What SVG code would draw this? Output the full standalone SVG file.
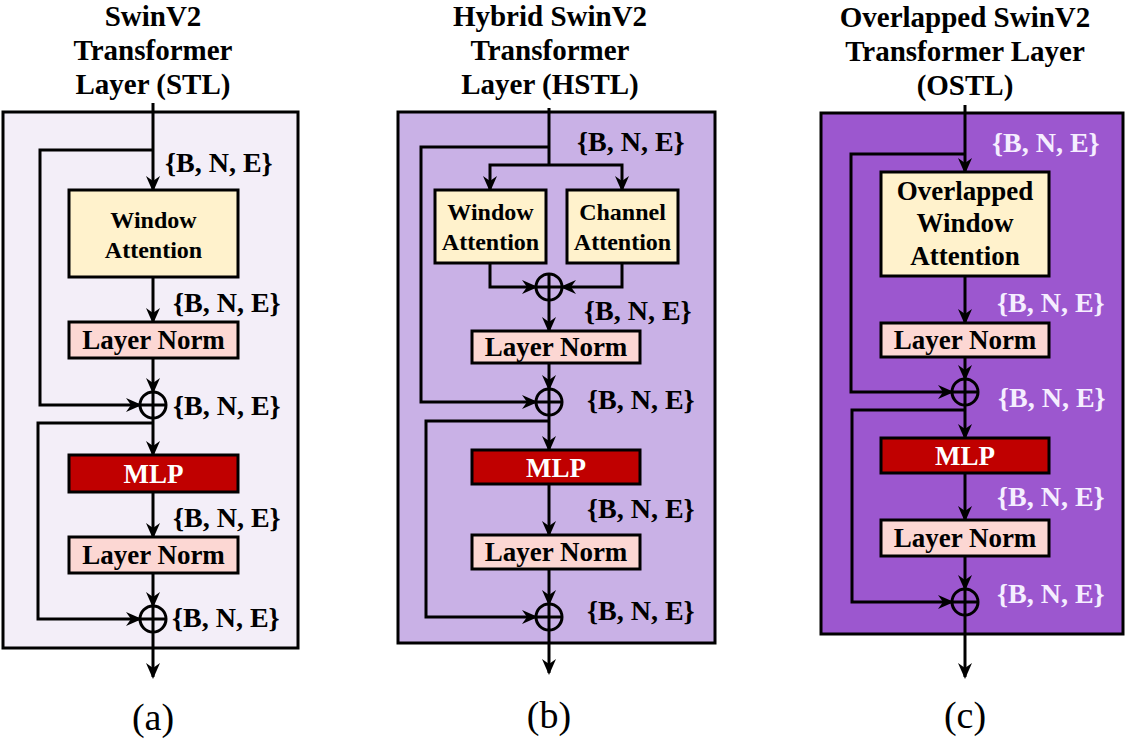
<svg xmlns="http://www.w3.org/2000/svg" width="1125" height="744" viewBox="0 0 1125 744" font-family="'Liberation Serif', 'Times New Roman', Times, serif">
<defs>
<marker id="ah" markerUnits="userSpaceOnUse" markerWidth="18" markerHeight="16" refX="14" refY="7" orient="auto">
<path d="M0,0 L16,7 L0,14 L5,7 z" fill="#000"/>
</marker>
<style>
.frame{stroke:#000;stroke-width:3}
.title{font-weight:bold;font-size:29px;text-anchor:middle;fill:#000}
.cap{font-size:38px;text-anchor:middle;fill:#000}
.lbl{font-weight:bold;font-size:28px;fill:#000}
.lblw{font-weight:bold;font-size:28px;fill:#f5eeff}
.bt{font-weight:bold;font-size:24px;text-anchor:middle;fill:#000}
.bln{font-weight:bold;font-size:27px;text-anchor:middle;fill:#000}
.bmlp{font-weight:bold;font-size:27px;text-anchor:middle;fill:#fff}
.att{fill:#fff2cc;stroke:#000;stroke-width:3}
.ln{fill:#fcd7d3;stroke:#000;stroke-width:3}
.mlp{fill:#c00000;stroke:#000;stroke-width:3}
.w{fill:none;stroke:#000;stroke-width:3}
.a{fill:none;stroke:#000;stroke-width:3;marker-end:url(#ah)}
.sum{fill:none;stroke:#000;stroke-width:3}
</style>
</defs>

<g id="panel-a">
<rect class="frame" x="3" y="112" width="295" height="536" fill="#f3eef8"/>
<text class="title" x="153" y="26">SwinV2</text>
<text class="title" x="153" y="60">Transformer</text>
<text class="title" x="153" y="94">Layer (STL)</text>
<text class="cap" x="153" y="730">(a)</text>
</g>
<g id="panel-b">
<rect class="frame" x="398" y="112" width="317" height="531" fill="#c9b1e6"/>
<text class="title" x="550" y="26">Hybrid SwinV2</text>
<text class="title" x="550" y="60">Transformer</text>
<text class="title" x="550" y="94">Layer (HSTL)</text>
<text class="cap" x="549" y="728">(b)</text>
</g>
<g id="panel-c">
<rect class="frame" x="821" y="113" width="302" height="521" fill="#9c57cf"/>
<text class="title" x="965" y="27">Overlapped SwinV2</text>
<text class="title" x="965" y="61">Transformer Layer</text>
<text class="title" x="965" y="95">(OSTL)</text>
<text class="cap" x="965" y="728">(c)</text>
</g>

<g id="connectors">
<path class="a" d="M153,103 V190"/>
<path class="a" d="M153,150 H40 V405 H140"/>
<path class="a" d="M153,277 V322"/>
<path class="a" d="M153,358 V392"/>
<path class="a" d="M153,418 V455"/>
<path class="a" d="M153,423 H38 V619 H140"/>
<path class="a" d="M153,492 V537"/>
<path class="a" d="M153,573 V606"/>
<path class="a" d="M153,632 V677"/>
<path class="w" d="M549,108 V165"/>
<path class="a" d="M549,147 H421 V402 H536"/>
<path class="a" d="M549,165 H490 V190"/>
<path class="a" d="M549,165 H622 V190"/>
<path class="a" d="M490,263 V287 H536"/>
<path class="a" d="M622,263 V287 H562"/>
<path class="a" d="M549,300 V331"/>
<path class="a" d="M549,363 V389"/>
<path class="a" d="M549,415 V450"/>
<path class="a" d="M549,421 H426 V617 H536"/>
<path class="a" d="M549,484 V535"/>
<path class="a" d="M549,569 V604"/>
<path class="a" d="M549,630 V673"/>
<path class="a" d="M965,105 V172"/>
<path class="a" d="M965,154 H851 V392 H952"/>
<path class="a" d="M965,276 V323"/>
<path class="a" d="M965,357 V379"/>
<path class="a" d="M965,405 V438"/>
<path class="a" d="M965,410 H852 V602 H952"/>
<path class="a" d="M965,473 V520"/>
<path class="a" d="M965,556 V589"/>
<path class="a" d="M965,615 V677"/>
</g>

<g id="a-window-attention">
<rect class="att" x="69" y="190" width="169" height="87"/>
<text class="bt" x="153.5" y="228">Window</text>
<text class="bt" x="153.5" y="258">Attention</text>
</g>
<g id="a-layernorm-1">
<rect class="ln" x="69" y="322" width="169" height="36"/>
<text class="bln" x="153.5" y="349">Layer Norm</text>
</g>
<g id="a-sum-1">
<circle class="sum" cx="153" cy="405" r="13"/>
<path class="sum" d="M140,405 H166 M153,392 V418"/>
</g>
<g id="a-mlp">
<rect class="mlp" x="69" y="455" width="169" height="37"/>
<text class="bmlp" x="153.5" y="483">MLP</text>
</g>
<g id="a-layernorm-2">
<rect class="ln" x="69" y="537" width="169" height="36"/>
<text class="bln" x="153.5" y="564">Layer Norm</text>
</g>
<g id="a-sum-2">
<circle class="sum" cx="153" cy="619" r="13"/>
<path class="sum" d="M140,619 H166 M153,606 V632"/>
</g>
<g id="a-labels">
<text class="lbl" x="165" y="172">{B, N, E}</text>
<text class="lbl" x="173" y="312">{B, N, E}</text>
<text class="lbl" x="173" y="415">{B, N, E}</text>
<text class="lbl" x="173" y="527">{B, N, E}</text>
<text class="lbl" x="172" y="627">{B, N, E}</text>
</g>

<g id="b-window-attention">
<rect class="att" x="435" y="190" width="111" height="73"/>
<text class="bt" x="490.5" y="220">Window</text>
<text class="bt" x="490.5" y="250">Attention</text>
</g>
<g id="b-channel-attention">
<rect class="att" x="567" y="190" width="111" height="73"/>
<text class="bt" x="622.5" y="220">Channel</text>
<text class="bt" x="622.5" y="250">Attention</text>
</g>
<g id="b-sum-0">
<circle class="sum" cx="549" cy="287" r="13"/>
<path class="sum" d="M536,287 H562 M549,274 V300"/>
</g>
<g id="b-layernorm-1">
<rect class="ln" x="472" y="331" width="168" height="32"/>
<text class="bln" x="556" y="356">Layer Norm</text>
</g>
<g id="b-sum-1">
<circle class="sum" cx="549" cy="402" r="13"/>
<path class="sum" d="M536,402 H562 M549,389 V415"/>
</g>
<g id="b-mlp">
<rect class="mlp" x="472" y="450" width="168" height="34"/>
<text class="bmlp" x="556" y="477">MLP</text>
</g>
<g id="b-layernorm-2">
<rect class="ln" x="472" y="535" width="168" height="34"/>
<text class="bln" x="556" y="561">Layer Norm</text>
</g>
<g id="b-sum-2">
<circle class="sum" cx="549" cy="617" r="13"/>
<path class="sum" d="M536,617 H562 M549,604 V630"/>
</g>
<g id="b-labels">
<text class="lbl" x="577" y="151">{B, N, E}</text>
<text class="lbl" x="584" y="320">{B, N, E}</text>
<text class="lbl" x="587" y="409">{B, N, E}</text>
<text class="lbl" x="587" y="518">{B, N, E}</text>
<text class="lbl" x="587" y="620">{B, N, E}</text>
</g>

<g id="c-overlapped-window-attention">
<rect class="att" x="881" y="172" width="168" height="104"/>
<text class="bln" x="965" y="200">Overlapped</text>
<text class="bln" x="965" y="232">Window</text>
<text class="bln" x="965" y="265">Attention</text>
</g>
<g id="c-layernorm-1">
<rect class="ln" x="881" y="323" width="168" height="34"/>
<text class="bln" x="965" y="349">Layer Norm</text>
</g>
<g id="c-sum-1">
<circle class="sum" cx="965" cy="392" r="13"/>
<path class="sum" d="M952,392 H978 M965,379 V405"/>
</g>
<g id="c-mlp">
<rect class="mlp" x="881" y="438" width="168" height="35"/>
<text class="bmlp" x="965" y="465">MLP</text>
</g>
<g id="c-layernorm-2">
<rect class="ln" x="881" y="520" width="168" height="36"/>
<text class="bln" x="965" y="547">Layer Norm</text>
</g>
<g id="c-sum-2">
<circle class="sum" cx="965" cy="602" r="13"/>
<path class="sum" d="M952,602 H978 M965,589 V615"/>
</g>
<g id="c-labels">
<text class="lblw" x="992" y="152">{B, N, E}</text>
<text class="lblw" x="997" y="312">{B, N, E}</text>
<text class="lblw" x="998" y="407">{B, N, E}</text>
<text class="lblw" x="997" y="506">{B, N, E}</text>
<text class="lblw" x="997" y="603">{B, N, E}</text>
</g>
</svg>
